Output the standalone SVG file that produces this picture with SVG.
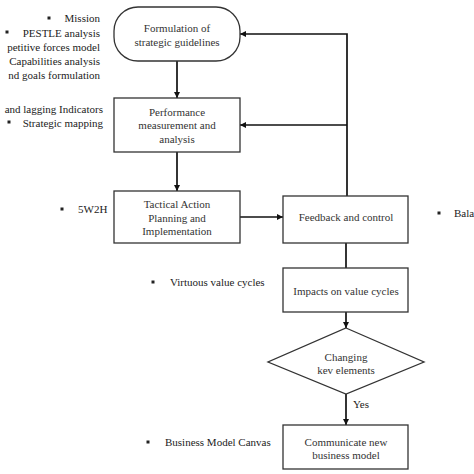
<svg xmlns="http://www.w3.org/2000/svg" width="474" height="474" viewBox="0 0 474 474">
<style>
.box{fill:#fff;stroke:#333;stroke-width:1.3}
.c{fill:none;stroke:#111;stroke-width:1.7}
.t{font-family:"Liberation Serif",serif;font-size:11px;fill:#333;text-anchor:middle}
.l{font-family:"Liberation Serif",serif;font-size:11px;fill:#222}
.e{text-anchor:end}
.b{fill:#222}
</style>
<defs>
<marker id="ah" viewBox="0 0 10 10" refX="10" refY="5" markerWidth="6" markerHeight="6" markerUnits="userSpaceOnUse" orient="auto">
<path d="M0,0 L10,5 L0,10 z" fill="#111"/>
</marker>
</defs>
<rect width="474" height="474" fill="#fff"/>
<g id="connectors">
<line class="c" x1="177" y1="61" x2="177" y2="98" marker-end="url(#ah)"/>
<line class="c" x1="177" y1="152" x2="177" y2="191" marker-end="url(#ah)"/>
<line class="c" x1="240" y1="217" x2="283" y2="217" marker-end="url(#ah)"/>
<polyline class="c" points="347,196 347,34 240,34" marker-end="url(#ah)"/>
<line class="c" x1="347" y1="125" x2="240" y2="125" marker-end="url(#ah)"/>
<line class="c" x1="346" y1="243" x2="346" y2="268"/>
<line class="c" x1="346" y1="312" x2="346" y2="328" marker-end="url(#ah)"/>
<line class="c" x1="346" y1="394" x2="346" y2="425" marker-end="url(#ah)"/>
<text class="l" x="353" y="408" font-size="8">Yes</text>
</g>
<g id="n-formulation">
<rect class="box" x="114" y="7" width="126" height="54" rx="24"/>
<text class="t" x="177" y="32">Formulation of</text>
<text class="t" x="177" y="46">strategic guidelines</text>
</g>
<g id="n-performance">
<rect class="box" x="114" y="98" width="126" height="54"/>
<text class="t" x="177" y="116">Performance</text>
<text class="t" x="177" y="129">measurement and</text>
<text class="t" x="177" y="143">analysis</text>
</g>
<g id="n-tactical">
<rect class="box" x="114" y="191" width="126" height="52"/>
<text class="t" x="177" y="208">Tactical Action</text>
<text class="t" x="177" y="222">Planning and</text>
<text class="t" x="177" y="235">Implementation</text>
</g>
<g id="n-feedback">
<rect class="box" x="283" y="196" width="125" height="47"/>
<text class="t" x="346" y="221">Feedback and control</text>
</g>
<g id="n-impacts">
<rect class="box" x="283" y="268" width="125" height="44"/>
<text class="t" x="346" y="295">Impacts on value cycles</text>
</g>
<g id="n-changing">
<polygon class="box" points="346,328 424,362 346,394 268,362"/>
<text class="t" x="346" y="361">Changing</text>
<text class="t" x="346" y="374">kev elements</text>
</g>
<g id="n-communicate">
<rect class="box" x="283" y="425" width="125" height="44"/>
<text class="t" x="346" y="446">Communicate new</text>
<text class="t" x="346" y="459">business model</text>
</g>
<g id="notes">
<rect class="b" x="47.5" y="16.5" width="3" height="3"/>
<text class="l e" x="100" y="22">Mission</text>
<rect class="b" x="5.5" y="30.5" width="3" height="3"/>
<text class="l e" x="100" y="37">PESTLE analysis</text>
<text class="l e" x="100" y="51">petitive forces model</text>
<text class="l e" x="100" y="65">Capabilities analysis</text>
<text class="l e" x="100" y="79">nd goals formulation</text>
<text class="l e" x="103" y="113">and lagging Indicators</text>
<rect class="b" x="7.5" y="120.5" width="3" height="3"/>
<text class="l e" x="103" y="127">Strategic mapping</text>
<rect class="b" x="60.5" y="207.5" width="3" height="3"/>
<text class="l" x="78" y="213">5W2H</text>
<rect class="b" x="151.5" y="280.5" width="3" height="3"/>
<text class="l" x="170" y="286">Virtuous value cycles</text>
<rect class="b" x="146.5" y="440.5" width="3" height="3"/>
<text class="l" x="165" y="446">Business Model Canvas</text>
<rect class="b" x="437.5" y="211.5" width="3" height="3"/>
<text class="l" x="454" y="217">Bala</text>
</g>
</svg>
